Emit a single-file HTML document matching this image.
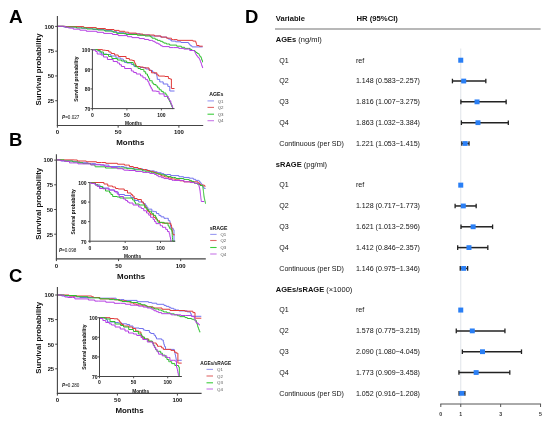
<!DOCTYPE html>
<html><head><meta charset="utf-8"><title>Figure</title>
<style>html,body{margin:0;padding:0;background:#fff;width:550px;height:424px;overflow:hidden}svg{display:block;will-change:transform}text{font-family:"Liberation Sans", sans-serif}</style>
</head><body>
<svg width="550" height="424" viewBox="0 0 550 424">
<rect width="550" height="424" fill="#fff"/>
<path d="M57.50 26.30H63.50V27.00H75.00H81.58V28.25H92.77V29.50H100.00H104.22V30.57H111.82V31.65H116.79V32.72H124.06V33.80H130.00H140.19V34.90H149.66V36.00H159.00H160.50V37.10H166.91V38.20H167.80H168.51V39.17H170.30V40.13H171.45V41.10H172.20H175.58V41.80H178.00H180.96V42.50H188.20H188.61V43.60H189.40V44.70H189.60H190.35V45.80H191.98V46.90H192.50H202.70V46.90" fill="none" stroke="#7272ee" stroke-width="1.0" stroke-linejoin="miter"/>
<path d="M57.50 26.30H65.53V26.60H81.00H83.79V27.57H96.33V28.53H105.46V29.50H113.00H114.02V30.40H119.12V31.30H124.69V32.20H128.64V33.10H130.00H136.37V34.07H142.89V35.03H154.38V36.00H159.00H161.14V37.10H166.63V38.20H170.70H171.46V39.60H173.60H177.20V40.35H192.83V41.10H195.50H195.74V42.20H196.09V43.30H196.44V44.40H196.66V45.50H196.90H199.14V46.20H202.70" fill="none" stroke="#e03a3a" stroke-width="1.0" stroke-linejoin="miter"/>
<path d="M57.50 26.30H64.67V27.00H70.00H76.45V28.00H86.77V29.00H97.65V30.00H100.00H104.83V31.12H113.15V32.25H116.63V33.38H126.10V34.50H130.00H137.24V35.25H145.02V36.00H148.90H150.77V37.10H152.10V38.20H155.17V39.30H157.35V40.40H159.00H160.16V41.30H162.40V42.20H163.86V43.10H166.33V44.00H167.80H169.68V45.10H176.72V46.20H178.00H181.36V47.30H184.61V48.40H188.20H190.17V49.45H191.92V50.50H194.00H194.84V51.50H195.87V52.50H197.23V53.50H198.40H198.92V54.58H199.36V55.65H200.09V56.72H201.15V57.80H201.30H201.55V58.90H201.78V60.00H202.27V61.10H202.53V62.20H202.70" fill="none" stroke="#2fbf2f" stroke-width="1.0" stroke-linejoin="miter"/>
<path d="M57.50 26.30H63.70V26.50H65.66V27.30H68.61V28.10H69.50H73.24V29.15H79.85V30.20H86.28V31.25H96.93V32.30H100.00H103.62V33.40H112.42V34.50H118.18V35.60H127.47V36.70H130.00H131.98V37.62H139.16V38.55H144.38V39.48H148.79V40.40H151.80H152.74V41.30H154.70V42.20H155.97V43.10H158.16V44.00H159.00H159.84V44.87H160.68V45.73H162.31V46.60H162.70H169.36V47.60H173.60H178.76V48.40H180.90H183.83V49.10H188.20H189.68V50.50H194.00H194.39V51.52H194.98V52.54H195.43V53.56H195.89V54.58H196.50V55.60H196.90H197.32V56.52H197.90V57.45H198.91V58.38H199.48V59.30H199.80H199.90V60.27H200.31V61.23H200.58V62.20H201.01V63.17H201.33V64.13H201.58V65.10H201.92V66.07H202.25V67.03H202.60V68.00H202.70" fill="none" stroke="#b53ee2" stroke-width="1.0" stroke-linejoin="miter"/>
<line x1="57.4" y1="16" x2="57.4" y2="126.0" stroke="#444" stroke-width="1.1"/>
<line x1="56.9" y1="125.5" x2="203.2" y2="125.5" stroke="#444" stroke-width="1.1"/>
<line x1="55.199999999999996" y1="100.725" x2="57.4" y2="100.725" stroke="#444" stroke-width="1"/>
<text x="54.1" y="103.02" font-size="5.8" font-weight="bold" text-anchor="end" fill="#111">25</text>
<line x1="55.199999999999996" y1="75.95" x2="57.4" y2="75.95" stroke="#444" stroke-width="1"/>
<text x="54.1" y="78.25" font-size="5.8" font-weight="bold" text-anchor="end" fill="#111">50</text>
<line x1="55.199999999999996" y1="51.175" x2="57.4" y2="51.175" stroke="#444" stroke-width="1"/>
<text x="54.1" y="53.47" font-size="5.8" font-weight="bold" text-anchor="end" fill="#111">75</text>
<line x1="55.199999999999996" y1="26.400000000000006" x2="57.4" y2="26.400000000000006" stroke="#444" stroke-width="1"/>
<text x="54.1" y="28.7" font-size="5.8" font-weight="bold" text-anchor="end" fill="#111">100</text>
<line x1="57.4" y1="125.5" x2="57.4" y2="127.7" stroke="#444" stroke-width="1"/>
<text x="57.4" y="134.3" font-size="6.0" font-weight="bold" text-anchor="middle" fill="#111">0</text>
<line x1="118.15" y1="125.5" x2="118.15" y2="127.7" stroke="#444" stroke-width="1"/>
<text x="118.15" y="134.3" font-size="6.0" font-weight="bold" text-anchor="middle" fill="#111">50</text>
<line x1="178.9" y1="125.5" x2="178.9" y2="127.7" stroke="#444" stroke-width="1"/>
<text x="178.9" y="134.3" font-size="6.0" font-weight="bold" text-anchor="middle" fill="#111">100</text>
<text x="40.9" y="69.5" font-size="7.75" font-weight="bold" text-anchor="middle" fill="#111" transform="rotate(-90 40.9 69.5)">Survival probability</text>
<text x="130.3" y="145.4" font-size="7.9" font-weight="bold" text-anchor="middle" fill="#111">Months</text>
<path d="M92.40 49.60H98.00V49.60H98.94V52.00H100.00H101.61V54.00H103.00H106.77V54.50H108.00H110.88V56.00H114.00H116.02V58.00H118.00H120.76V59.00H123.00H123.31V60.75H124.51V62.50H125.00H126.73V63.00H128.00H131.38V64.50H133.00H134.03V66.50H137.00H140.06V67.50H145.00H145.73V69.00H149.80V70.50H150.70H152.49V72.05H154.25V73.60H156.50H156.74V75.53H157.03V77.47H157.28V79.40H157.40H159.73V81.90H161.50H163.21V84.00H167.30H167.82V86.40H169.80V91.00H170.00H174.50V91.00" fill="none" stroke="#7272ee" stroke-width="1.0" stroke-linejoin="miter"/>
<path d="M92.40 49.60H102.00V49.60H102.48V50.20H103.00H105.38V50.50H107.00H108.80V52.00H110.00H111.14V53.50H114.00H114.62V55.00H117.00H118.27V56.50H120.00H125.00V56.50H126.09V58.50H128.00H129.37V60.00H130.00H132.46V60.50H134.00H134.28V62.00H134.77V63.50H135.00H135.60V65.00H136.29V66.50H137.00H139.78V67.00H143.00H143.33V67.90H144.10H149.01V70.30H150.70H151.48V72.80H154.00H156.90V74.90H158.20H158.59V76.10H159.80H164.88V76.50H168.10H168.42V78.60H168.90H170.01V79.00H171.40V88.50H171.80H174.50V88.50" fill="none" stroke="#e03a3a" stroke-width="1.0" stroke-linejoin="miter"/>
<path d="M92.40 49.60H97.00V49.60H97.71V50.50H99.00H100.22V52.00H101.00H103.44V54.50H105.00H108.55V56.50H110.00H111.87V58.50H116.00H117.35V60.00H120.00H121.44V61.00H125.00H126.68V62.50H130.00H133.20V65.00H135.00H135.56V66.75H138.04V68.50H139.00H140.41V69.50H143.30H143.92V71.75H145.71V74.00H146.60H147.48V76.10H148.56V78.20H149.10H149.62V80.70H151.60H152.18V83.10H153.20H153.68V84.55H156.04V86.00H156.50H157.63V87.90H159.28V89.80H159.80H161.26V91.40H163.26V93.00H164.00H165.85V94.70H166.40H167.01V96.47H167.62V98.25H168.84V100.03H169.54V101.80H170.00H170.49V103.50H171.15V105.20H171.84V106.90H172.56V108.60H173.00" fill="none" stroke="#2fbf2f" stroke-width="1.0" stroke-linejoin="miter"/>
<path d="M92.40 49.60H93.09V50.00H95.00H95.62V51.50H96.00H97.18V54.00H98.00H101.06V55.00H102.00H103.45V57.00H106.00H107.41V59.50H110.00H113.20V61.50H115.00H117.38V63.00H119.00H119.57V64.75H121.42V66.50H122.00H124.63V68.50H128.00H131.33V71.00H133.00H133.68V72.50H136.33V74.00H138.00H140.59V75.90H142.95V77.80H145.00H145.59V79.65H147.78V81.50H148.30H148.78V83.35H149.36V85.20H150.39V87.05H151.27V88.90H151.60H152.32V91.00H154.00H156.48V91.40H158.20H159.10V93.90H161.50H164.11V96.40H168.00H168.25V98.60H169.32V100.80H170.79V103.00H171.00H171.29V104.87H172.20V106.73H172.64V108.60H173.00" fill="none" stroke="#b53ee2" stroke-width="1.0" stroke-linejoin="miter"/>
<line x1="92.4" y1="49.6" x2="92.4" y2="109.1" stroke="#444" stroke-width="1"/>
<line x1="91.9" y1="108.6" x2="174.5" y2="108.6" stroke="#444" stroke-width="1"/>
<line x1="90.5" y1="108.6" x2="92.4" y2="108.6" stroke="#444" stroke-width="0.9"/>
<text x="90.2" y="110.9" font-size="5.0" font-weight="bold" text-anchor="end" fill="#111">70</text>
<line x1="90.5" y1="88.93333333333334" x2="92.4" y2="88.93333333333334" stroke="#444" stroke-width="0.9"/>
<text x="90.2" y="91.23" font-size="5.0" font-weight="bold" text-anchor="end" fill="#111">80</text>
<line x1="90.5" y1="69.26666666666667" x2="92.4" y2="69.26666666666667" stroke="#444" stroke-width="0.9"/>
<text x="90.2" y="71.57" font-size="5.0" font-weight="bold" text-anchor="end" fill="#111">90</text>
<line x1="90.5" y1="49.6" x2="92.4" y2="49.6" stroke="#444" stroke-width="0.9"/>
<text x="90.2" y="51.9" font-size="5.0" font-weight="bold" text-anchor="end" fill="#111">100</text>
<line x1="92.4" y1="108.6" x2="92.4" y2="110.39999999999999" stroke="#444" stroke-width="0.9"/>
<text x="92.4" y="116.5" font-size="5.0" font-weight="bold" text-anchor="middle" fill="#111">0</text>
<line x1="126.9" y1="108.6" x2="126.9" y2="110.39999999999999" stroke="#444" stroke-width="0.9"/>
<text x="126.9" y="116.5" font-size="5.0" font-weight="bold" text-anchor="middle" fill="#111">50</text>
<line x1="161.4" y1="108.6" x2="161.4" y2="110.39999999999999" stroke="#444" stroke-width="0.9"/>
<text x="161.4" y="116.5" font-size="5.0" font-weight="bold" text-anchor="middle" fill="#111">100</text>
<text x="78.5" y="79.1" font-size="4.9" font-weight="bold" text-anchor="middle" fill="#111" transform="rotate(-90 78.5 79.1)">Survival probability</text>
<text x="133.45" y="125.0" font-size="4.8" font-weight="bold" text-anchor="middle" fill="#111">Months</text>
<text x="62.1" y="118.5" font-size="4.6" fill="#111"><tspan font-style="italic" font-weight="bold">P</tspan><tspan font-weight="bold">=</tspan>0.027</text>
<text x="209.2" y="96.4" font-size="5.2" font-weight="bold" text-anchor="start" fill="#111">AGEs</text>
<line x1="207.5" y1="100.9" x2="214" y2="100.9" stroke="#9a9af2" stroke-width="1.1"/>
<text x="217.7" y="102.5" font-size="4.4" text-anchor="start" fill="#555">Q1</text>
<line x1="207.5" y1="107.4" x2="214" y2="107.4" stroke="#e06a6a" stroke-width="1.1"/>
<text x="217.7" y="109.0" font-size="4.4" text-anchor="start" fill="#555">Q2</text>
<line x1="207.5" y1="114.2" x2="214" y2="114.2" stroke="#3ccc3c" stroke-width="1.1"/>
<text x="217.7" y="115.8" font-size="4.4" text-anchor="start" fill="#555">Q3</text>
<line x1="207.5" y1="120.7" x2="214" y2="120.7" stroke="#c878e8" stroke-width="1.1"/>
<text x="217.7" y="122.3" font-size="4.4" text-anchor="start" fill="#555">Q4</text>
<path d="M57.00 159.90H61.28V161.00H69.50H73.34V161.87H79.88V162.73H88.21V163.60H91.40H95.57V164.35H100.39V165.10H105.90H108.94V166.50H120.50H123.84V167.25H126.94V168.00H130.00H132.48V168.97H143.06V169.93H148.04V170.90H151.80H154.36V171.80H157.22V172.70H161.23V173.60H163.81V174.50H166.40H170.61V175.60H178.88V176.70H180.90H183.52V177.45H189.29V178.20H191.10H193.30V179.30H195.62V180.40H198.40H199.03V181.37H199.90V182.33H200.70V183.30H201.30H201.43V184.32H202.30V185.34H202.74V186.36H203.41V187.38H204.04V188.40H204.20H205.60V188.40" fill="none" stroke="#7272ee" stroke-width="1.0" stroke-linejoin="miter"/>
<path d="M57.00 159.90H73.90V160.00H77.35V161.00H84.00H86.29V161.75H96.58V162.50H101.50H105.75V163.30H116.00H117.40V164.20H124.43V165.10H127.70H129.43V166.50H130.00H133.29V167.50H138.02V168.50H141.28V169.50H144.50H146.54V170.47H149.83V171.43H153.48V172.40H156.20H156.58V173.30H158.13V174.20H160.20V175.10H161.56V176.00H162.00H164.64V176.97H168.50V177.93H170.96V178.90H173.60H175.11V179.87H179.75V180.83H183.89V181.80H185.30H196.90V181.80H197.93V182.90H199.41V184.00H199.80H200.53V185.10H204.33V186.20H205.60" fill="none" stroke="#e03a3a" stroke-width="1.0" stroke-linejoin="miter"/>
<path d="M57.00 159.90H64.17V161.00H69.50H72.62V161.87H77.61V162.73H82.87V163.60H84.00H90.63V164.80H94.30H94.83V165.80H95.15V166.80H95.70H105.43V168.00H116.00H126.72V168.70H130.00H134.27V169.80H142.62V170.90H144.50H145.79V171.87H151.66V172.83H155.85V173.80H159.00H160.92V174.73H164.64V175.65H167.06V176.57H171.15V177.50H173.60H175.74V178.47H183.81V179.43H189.11V180.40H191.10H191.53V181.37H193.56V182.33H194.45V183.30H195.50H197.55V184.40H200.09V185.50H202.70H202.73V186.53H202.92V187.55H202.99V188.57H203.12V189.60H203.30V190.62H203.42V191.65H203.50V192.68H203.67V193.70H203.77V194.73H203.90V195.75H203.99V196.78H204.17V197.80H204.20H204.34V198.77H204.62V199.73H204.84V200.70H204.99V201.67H205.23V202.63H205.44V203.60H205.60" fill="none" stroke="#2fbf2f" stroke-width="1.0" stroke-linejoin="miter"/>
<path d="M57.00 159.90H60.24V160.70H65.13V161.50H66.60H69.50V162.90H72.50H77.94V163.85H90.80V164.80H103.00H103.87V165.65H105.15V166.50H105.90H111.15V167.60H117.29V168.70H121.90H122.86V169.45H123.88V170.20H124.80H128.34V170.50H130.00H135.58V171.45H142.67V172.40H147.50H149.77V173.45H154.50V174.50H156.20H156.64V175.60H158.35V176.70H159.00H161.49V177.62H163.96V178.55H168.79V179.47H172.18V180.40H173.60H183.92V181.80H188.20H190.25V182.55H194.60V183.30H198.40H198.56V184.25H198.79V185.20H198.98V186.15H199.16V187.10H199.41V188.05H199.70V189.00H199.80H199.85V190.04H200.02V191.08H200.12V192.12H200.22V193.17H200.37V194.21H200.48V195.25H200.64V196.29H200.77V197.33H200.86V198.38H201.00V199.42H201.13V200.46H201.26V201.50H201.30H204.20V201.50" fill="none" stroke="#b53ee2" stroke-width="1.0" stroke-linejoin="miter"/>
<line x1="56.4" y1="154.2" x2="56.4" y2="259.4" stroke="#444" stroke-width="1.1"/>
<line x1="55.9" y1="258.9" x2="205.8" y2="258.9" stroke="#444" stroke-width="1.1"/>
<line x1="54.199999999999996" y1="234.2" x2="56.4" y2="234.2" stroke="#444" stroke-width="1"/>
<text x="53.1" y="236.5" font-size="5.8" font-weight="bold" text-anchor="end" fill="#111">25</text>
<line x1="54.199999999999996" y1="209.5" x2="56.4" y2="209.5" stroke="#444" stroke-width="1"/>
<text x="53.1" y="211.8" font-size="5.8" font-weight="bold" text-anchor="end" fill="#111">50</text>
<line x1="54.199999999999996" y1="184.79999999999998" x2="56.4" y2="184.79999999999998" stroke="#444" stroke-width="1"/>
<text x="53.1" y="187.1" font-size="5.8" font-weight="bold" text-anchor="end" fill="#111">75</text>
<line x1="54.199999999999996" y1="160.1" x2="56.4" y2="160.1" stroke="#444" stroke-width="1"/>
<text x="53.1" y="162.4" font-size="5.8" font-weight="bold" text-anchor="end" fill="#111">100</text>
<line x1="56.4" y1="258.9" x2="56.4" y2="261.09999999999997" stroke="#444" stroke-width="1"/>
<text x="56.4" y="267.8" font-size="6.0" font-weight="bold" text-anchor="middle" fill="#111">0</text>
<line x1="118.55000000000001" y1="258.9" x2="118.55000000000001" y2="261.09999999999997" stroke="#444" stroke-width="1"/>
<text x="118.55" y="267.8" font-size="6.0" font-weight="bold" text-anchor="middle" fill="#111">50</text>
<line x1="180.70000000000002" y1="258.9" x2="180.70000000000002" y2="261.09999999999997" stroke="#444" stroke-width="1"/>
<text x="180.7" y="267.8" font-size="6.0" font-weight="bold" text-anchor="middle" fill="#111">100</text>
<text x="41.1" y="203.8" font-size="7.75" font-weight="bold" text-anchor="middle" fill="#111" transform="rotate(-90 41.1 203.8)">Survival probability</text>
<text x="131.1" y="278.59999999999997" font-size="7.9" font-weight="bold" text-anchor="middle" fill="#111">Months</text>
<path d="M89.90 182.50H91.36V182.80H93.00H95.14V185.00H97.00H100.02V187.00H101.00H103.40V188.00H106.00H109.03V190.00H112.00H114.76V192.00H117.00H118.24V194.50H121.00H124.55V195.50H128.00H130.89V197.50H133.00H134.01V199.00H134.88V200.50H136.00H138.67V202.00H143.00H143.36V203.67H145.36V205.33H146.66V207.00H147.20H147.79V209.15H151.85V211.30H152.40H154.43V211.70H155.00H156.48V213.55H158.92V215.40H160.00H160.97V216.85H163.99V218.30H166.60H168.31V220.70H169.90H169.96V222.63H170.25V224.57H170.53V226.50H170.70H171.06V228.15H173.14V229.80H174.00V241.20H174.40" fill="none" stroke="#7272ee" stroke-width="1.0" stroke-linejoin="miter"/>
<path d="M89.90 182.50H102.00V182.50H103.94V184.00H106.00H107.78V186.00H109.00H112.60V187.00H115.00H115.57V188.50H117.00H118.24V189.00H123.00H124.27V190.50H126.00H127.46V193.00H130.00H131.03V194.50H132.42V196.00H133.00H134.12V198.50H135.00H137.14V199.50H139.00H141.39V202.00H143.00H143.30V203.88H144.54V205.75H145.41V207.62H146.93V209.50H147.20H147.54V211.23H149.62V212.97H150.42V214.70H151.50H153.64V217.40H155.00H155.66V219.05H157.38V220.70H158.30H159.50V222.40H160.00H162.26V223.20H170.70H170.79V224.87H171.40V226.53H171.70V228.20H171.90H171.97V230.10H172.38V232.00H172.64V233.90H172.70H173.26V234.80H174.80" fill="none" stroke="#e03a3a" stroke-width="1.0" stroke-linejoin="miter"/>
<path d="M89.90 182.50H91.36V183.00H94.00H95.53V184.75H98.03V186.50H99.00H102.55V188.50H104.00H105.56V191.00H109.00H109.51V192.75H110.93V194.50H112.00H112.67V196.50H114.00H117.20V197.00H119.00H119.83V198.00H122.00H131.00V198.20H132.56V200.00H134.00H134.33V202.00H135.38V204.00H136.00H139.21V205.00H143.00H144.69V207.80H145.40H146.87V209.55H148.54V211.30H150.60H151.40V213.35H153.43V215.40H155.00H155.60V217.15H156.39V218.90H157.21V220.65H158.05V222.40H158.30H164.19V223.20H167.40H168.02V225.70H168.20H169.03V227.33H169.87V228.97H171.54V230.60H171.90H171.97V232.37H172.12V234.13H172.24V235.90H172.36V237.67H172.49V239.43H172.63V241.20H172.70H174.80V241.20" fill="none" stroke="#2fbf2f" stroke-width="1.0" stroke-linejoin="miter"/>
<path d="M89.90 182.50H90.98V183.50H94.00H95.24V185.00H97.18V186.50H98.00H99.53V188.50H100.00H102.90V188.80H108.00H109.06V190.00H111.00H114.20V191.50H116.00H117.19V194.00H118.00H119.15V196.50H121.00H123.44V199.00H125.00H125.66V200.50H127.50V202.00H128.00H129.08V203.00H132.00H133.00V205.00H135.00H138.70V207.00H140.00H141.24V208.50H143.00H143.75V210.75H146.53V213.00H147.20H148.71V215.15H150.55V217.30H152.40H153.09V219.45H154.48V221.60H155.00H155.99V223.65H160.25V225.70H161.60H162.50V227.30H164.90H165.72V229.40H167.46V231.50H169.00H169.14V233.44H169.75V235.38H170.03V237.32H170.59V239.26H170.87V241.20H171.10" fill="none" stroke="#b53ee2" stroke-width="1.0" stroke-linejoin="miter"/>
<line x1="89.9" y1="182.5" x2="89.9" y2="241.7" stroke="#444" stroke-width="1"/>
<line x1="89.4" y1="241.2" x2="175.3" y2="241.2" stroke="#444" stroke-width="1"/>
<line x1="88.0" y1="241.2" x2="89.9" y2="241.2" stroke="#444" stroke-width="0.9"/>
<text x="86.5" y="243.5" font-size="5.0" font-weight="bold" text-anchor="end" fill="#111">70</text>
<line x1="88.0" y1="221.63333333333333" x2="89.9" y2="221.63333333333333" stroke="#444" stroke-width="0.9"/>
<text x="86.5" y="223.93" font-size="5.0" font-weight="bold" text-anchor="end" fill="#111">80</text>
<line x1="88.0" y1="202.06666666666666" x2="89.9" y2="202.06666666666666" stroke="#444" stroke-width="0.9"/>
<text x="86.5" y="204.37" font-size="5.0" font-weight="bold" text-anchor="end" fill="#111">90</text>
<line x1="88.0" y1="182.5" x2="89.9" y2="182.5" stroke="#444" stroke-width="0.9"/>
<text x="86.5" y="184.8" font-size="5.0" font-weight="bold" text-anchor="end" fill="#111">100</text>
<line x1="89.9" y1="241.2" x2="89.9" y2="243.0" stroke="#444" stroke-width="0.9"/>
<text x="89.9" y="249.6" font-size="5.0" font-weight="bold" text-anchor="middle" fill="#111">0</text>
<line x1="125.2" y1="241.2" x2="125.2" y2="243.0" stroke="#444" stroke-width="0.9"/>
<text x="125.2" y="249.6" font-size="5.0" font-weight="bold" text-anchor="middle" fill="#111">50</text>
<line x1="160.5" y1="241.2" x2="160.5" y2="243.0" stroke="#444" stroke-width="0.9"/>
<text x="160.5" y="249.6" font-size="5.0" font-weight="bold" text-anchor="middle" fill="#111">100</text>
<text x="75.4" y="211.85" font-size="4.9" font-weight="bold" text-anchor="middle" fill="#111" transform="rotate(-90 75.4 211.85)">Survival probability</text>
<text x="132.6" y="257.6" font-size="4.8" font-weight="bold" text-anchor="middle" fill="#111">Months</text>
<text x="59.0" y="252.2" font-size="4.6" fill="#111"><tspan font-style="italic" font-weight="bold">P</tspan><tspan font-weight="bold">=</tspan>0.098</text>
<text x="209.7" y="230.2" font-size="5.2" font-weight="bold" text-anchor="start" fill="#111">sRAGE</text>
<line x1="210.2" y1="234.4" x2="216.6" y2="234.4" stroke="#9a9af2" stroke-width="1.1"/>
<text x="220.4" y="236.0" font-size="4.4" text-anchor="start" fill="#555">Q1</text>
<line x1="210.2" y1="240.5" x2="216.6" y2="240.5" stroke="#e06a6a" stroke-width="1.1"/>
<text x="220.4" y="242.1" font-size="4.4" text-anchor="start" fill="#555">Q2</text>
<line x1="210.2" y1="247.5" x2="216.6" y2="247.5" stroke="#3ccc3c" stroke-width="1.1"/>
<text x="220.4" y="249.1" font-size="4.4" text-anchor="start" fill="#555">Q3</text>
<line x1="210.2" y1="254" x2="216.6" y2="254" stroke="#c878e8" stroke-width="1.1"/>
<text x="220.4" y="255.6" font-size="4.4" text-anchor="start" fill="#555">Q4</text>
<path d="M57.50 295.00H61.61V296.00H69.50H73.32V296.75H79.81V297.50H84.00H98.79V298.20H110.30H116.17V299.60H120.50H123.97V300.40H135.00H137.08V301.70H145.00H148.51V302.45H151.78V303.20H155.00H156.70V304.30H163.99V305.40H165.00H166.13V306.37H168.97V307.33H170.80V308.30H172.00H173.56V309.17H175.44V310.03H178.88V310.90H180.00H187.21V311.90H190.00H190.26V313.00H190.82V314.10H191.30V315.20H191.62V316.30H192.00H201.30V316.30" fill="none" stroke="#7272ee" stroke-width="1.0" stroke-linejoin="miter"/>
<path d="M57.50 295.00H69.08V296.00H91.40H91.78V296.75H93.48V297.50H94.30H99.84V298.90H113.20H114.36V299.87H120.16V300.83H126.50V301.80H127.70H130.18V302.90H133.76V304.00H135.00H136.67V304.93H142.61V305.87H146.83V306.80H150.00H153.04V308.00H160.00H161.98V309.25H169.96V310.50H175.00H184.83V311.20H188.00H192.88V312.60H195.00V318.20H195.50H201.30V318.20" fill="none" stroke="#e03a3a" stroke-width="1.0" stroke-linejoin="miter"/>
<path d="M57.50 295.00H64.38V295.50H69.50H76.56V296.70H87.86V297.90H91.40H99.74V298.75H109.32V299.60H113.20H118.67V300.57H122.05V301.53H131.22V302.50H135.00H137.87V303.62H140.96V304.75H145.28V305.88H147.25V307.00H150.00H151.60V308.00H154.49V309.00H158.42V310.00H160.00H161.63V310.96H163.62V311.92H166.99V312.88H170.10V313.84H174.25V314.80H175.00H177.47V315.73H179.86V316.65H185.04V317.57H187.31V318.50H190.00H191.71V319.25H193.83V320.00H196.00H196.06V321.03H196.49V322.06H196.66V323.09H196.95V324.11H197.37V325.14H197.64V326.17H197.82V327.20H198.00H198.31V328.22H198.61V329.24H199.04V330.26H199.33V331.28H199.91V332.30H200.00" fill="none" stroke="#2fbf2f" stroke-width="1.0" stroke-linejoin="miter"/>
<path d="M57.50 295.00H61.69V295.30H63.70H64.22V296.15H64.82V297.00H65.20H67.81V297.50H72.50H74.80V298.90H84.00H88.36V300.00H94.82V301.10H98.60H105.78V302.20H114.19V303.30H120.50H125.30V304.25H130.39V305.20H135.00H138.41V306.13H143.19V307.07H147.24V308.00H150.00H150.94V308.92H152.90V309.84H154.17V310.76H156.36V311.68H158.43V312.60H159.00H161.62V313.70H171.28V314.80H173.60H180.75V315.50H185.30H191.45V316.30H194.00H194.12V317.32H194.38V318.34H194.80V319.36H195.10V320.38H195.34V321.40H195.50H195.78V322.30H196.92V323.20H198.27V324.10H199.13V325.00H199.80" fill="none" stroke="#b53ee2" stroke-width="1.0" stroke-linejoin="miter"/>
<line x1="57.4" y1="287" x2="57.4" y2="393.9" stroke="#444" stroke-width="1.1"/>
<line x1="56.9" y1="393.4" x2="201.6" y2="393.4" stroke="#444" stroke-width="1.1"/>
<line x1="55.199999999999996" y1="368.79999999999995" x2="57.4" y2="368.79999999999995" stroke="#444" stroke-width="1"/>
<text x="54.1" y="371.1" font-size="5.8" font-weight="bold" text-anchor="end" fill="#111">25</text>
<line x1="55.199999999999996" y1="344.2" x2="57.4" y2="344.2" stroke="#444" stroke-width="1"/>
<text x="54.1" y="346.5" font-size="5.8" font-weight="bold" text-anchor="end" fill="#111">50</text>
<line x1="55.199999999999996" y1="319.6" x2="57.4" y2="319.6" stroke="#444" stroke-width="1"/>
<text x="54.1" y="321.9" font-size="5.8" font-weight="bold" text-anchor="end" fill="#111">75</text>
<line x1="55.199999999999996" y1="295.0" x2="57.4" y2="295.0" stroke="#444" stroke-width="1"/>
<text x="54.1" y="297.3" font-size="5.8" font-weight="bold" text-anchor="end" fill="#111">100</text>
<line x1="57.4" y1="393.4" x2="57.4" y2="395.59999999999997" stroke="#444" stroke-width="1"/>
<text x="57.4" y="401.5" font-size="6.0" font-weight="bold" text-anchor="middle" fill="#111">0</text>
<line x1="117.4" y1="393.4" x2="117.4" y2="395.59999999999997" stroke="#444" stroke-width="1"/>
<text x="117.4" y="401.5" font-size="6.0" font-weight="bold" text-anchor="middle" fill="#111">50</text>
<line x1="177.4" y1="393.4" x2="177.4" y2="395.59999999999997" stroke="#444" stroke-width="1"/>
<text x="177.4" y="401.5" font-size="6.0" font-weight="bold" text-anchor="middle" fill="#111">100</text>
<text x="40.9" y="337.8" font-size="7.75" font-weight="bold" text-anchor="middle" fill="#111" transform="rotate(-90 40.9 337.8)">Survival probability</text>
<text x="129.5" y="412.5" font-size="7.9" font-weight="bold" text-anchor="middle" fill="#111">Months</text>
<path d="M99.50 317.70H106.00V317.70H106.47V319.85H107.54V322.00H108.00H114.79V322.50H117.00H118.44V323.00H120.00H122.02V323.80H124.00H126.76V324.50H129.00H129.62V326.00H131.00H133.03V328.00H135.00H139.05V328.50H142.00H143.35V330.00H144.00H145.28V330.50H149.00H149.38V332.50H150.00H150.76V333.50H153.00H154.07V335.30H155.53V337.10H156.49V338.90H157.70H161.73V340.00H162.80H163.29V342.20H163.81V344.40H164.43V346.60H164.70H165.52V349.40H167.50H174.20V349.40H174.29V351.30H174.88V353.20H175.10H175.18V354.98H175.56V356.75H175.92V358.52H176.23V360.30H176.50H181.70V360.30" fill="none" stroke="#7272ee" stroke-width="1.0" stroke-linejoin="miter"/>
<path d="M99.50 317.70H109.00V317.70H109.97V318.50H111.00H113.97V318.80H116.00H117.80V320.00H119.00H119.29V321.50H120.21V323.00H121.00H121.42V324.50H122.00H123.46V326.00H126.00H128.74V327.00H130.00H132.46V328.50H134.00H135.68V331.00H137.00H138.60V332.00H140.00H140.90V334.50H141.50V336.50H142.00H143.15V339.00H146.00H148.78V341.50H152.00H152.71V343.00H154.40H156.26V344.65H157.49V346.30H159.40H161.58V347.85H163.32V349.40H165.70H170.90V350.40H174.20H174.56V352.30H175.10H176.34V353.20H177.90V363.10H178.40H181.70V363.10" fill="none" stroke="#e03a3a" stroke-width="1.0" stroke-linejoin="miter"/>
<path d="M99.50 317.70H104.00V317.70H105.07V319.00H107.00H110.06V321.50H112.00H115.05V324.00H117.00H120.55V325.50H122.00H123.56V327.00H127.00H128.69V329.50H132.00H133.44V331.50H137.00H138.34V334.00H141.00H141.64V335.50H142.28V337.00H143.00H144.56V339.00H146.00H147.97V341.00H152.00H152.30V343.00H152.80H153.30V345.20H154.67V347.40H155.62V349.60H156.10H156.91V351.30H160.00H160.69V353.20H162.45V355.10H163.80H165.15V357.30H166.95V359.50H168.81V361.70H169.40H171.70V363.60H174.83V365.50H176.00H178.54V366.90H179.30V376.50H179.80" fill="none" stroke="#2fbf2f" stroke-width="1.0" stroke-linejoin="miter"/>
<path d="M99.50 317.70H99.90V318.50H101.00H102.86V320.50H104.00H105.77V322.50H107.00H109.29V323.80H110.00H111.45V325.00H114.00H115.06V327.00H117.00H120.20V329.00H122.00H124.98V331.00H127.00H128.53V333.00H131.00H133.44V334.00H135.00H136.75V335.50H139.00H141.00V337.50H142.00H142.81V339.50H145.00H147.34V342.00H152.00H152.76V343.90H153.45V345.80H154.42V347.70H155.77V349.60H156.10H157.23V351.90H158.62V354.20H160.00H162.26V355.85H166.79V357.50H168.50H169.91V360.30H173.20H175.15V361.20H176.50V367.40H177.00H177.10V369.22H177.53V371.04H177.85V372.86H178.26V374.68H178.82V376.50H178.90" fill="none" stroke="#b53ee2" stroke-width="1.0" stroke-linejoin="miter"/>
<line x1="99.5" y1="317.7" x2="99.5" y2="377.0" stroke="#444" stroke-width="1"/>
<line x1="99.0" y1="376.5" x2="181.9" y2="376.5" stroke="#444" stroke-width="1"/>
<line x1="97.6" y1="376.5" x2="99.5" y2="376.5" stroke="#444" stroke-width="0.9"/>
<text x="97.5" y="378.8" font-size="5.0" font-weight="bold" text-anchor="end" fill="#111">70</text>
<line x1="97.6" y1="356.9" x2="99.5" y2="356.9" stroke="#444" stroke-width="0.9"/>
<text x="97.5" y="359.2" font-size="5.0" font-weight="bold" text-anchor="end" fill="#111">80</text>
<line x1="97.6" y1="337.3" x2="99.5" y2="337.3" stroke="#444" stroke-width="0.9"/>
<text x="97.5" y="339.6" font-size="5.0" font-weight="bold" text-anchor="end" fill="#111">90</text>
<line x1="97.6" y1="317.7" x2="99.5" y2="317.7" stroke="#444" stroke-width="0.9"/>
<text x="97.5" y="320.0" font-size="5.0" font-weight="bold" text-anchor="end" fill="#111">100</text>
<line x1="99.5" y1="376.5" x2="99.5" y2="378.3" stroke="#444" stroke-width="0.9"/>
<text x="99.5" y="383.8" font-size="5.0" font-weight="bold" text-anchor="middle" fill="#111">0</text>
<line x1="133.6" y1="376.5" x2="133.6" y2="378.3" stroke="#444" stroke-width="0.9"/>
<text x="133.6" y="383.8" font-size="5.0" font-weight="bold" text-anchor="middle" fill="#111">50</text>
<line x1="167.7" y1="376.5" x2="167.7" y2="378.3" stroke="#444" stroke-width="0.9"/>
<text x="167.7" y="383.8" font-size="5.0" font-weight="bold" text-anchor="middle" fill="#111">100</text>
<text x="86.4" y="347.1" font-size="4.9" font-weight="bold" text-anchor="middle" fill="#111" transform="rotate(-90 86.4 347.1)">Survival probability</text>
<text x="140.7" y="392.5" font-size="4.8" font-weight="bold" text-anchor="middle" fill="#111">Months</text>
<text x="62.1" y="386.5" font-size="4.6" fill="#111"><tspan font-style="italic" font-weight="bold">P</tspan><tspan font-weight="bold">=</tspan>0.280</text>
<text x="200.2" y="365.0" font-size="4.8" font-weight="bold" text-anchor="start" fill="#111">AGEs/sRAGE</text>
<line x1="206.5" y1="369.4" x2="213" y2="369.4" stroke="#9a9af2" stroke-width="1.1"/>
<text x="217.1" y="371.0" font-size="4.4" text-anchor="start" fill="#555">Q1</text>
<line x1="206.5" y1="376" x2="213" y2="376" stroke="#e06a6a" stroke-width="1.1"/>
<text x="217.1" y="377.6" font-size="4.4" text-anchor="start" fill="#555">Q2</text>
<line x1="206.5" y1="382.8" x2="213" y2="382.8" stroke="#3ccc3c" stroke-width="1.1"/>
<text x="217.1" y="384.4" font-size="4.4" text-anchor="start" fill="#555">Q3</text>
<line x1="206.5" y1="389" x2="213" y2="389" stroke="#c878e8" stroke-width="1.1"/>
<text x="217.1" y="390.6" font-size="4.4" text-anchor="start" fill="#555">Q4</text>
<text x="9" y="22.9" font-size="19" font-weight="bold" text-anchor="start" fill="#000">A</text>
<text x="9.1" y="146" font-size="18.5" font-weight="bold" text-anchor="start" fill="#000">B</text>
<text x="9.1" y="281.5" font-size="18.5" font-weight="bold" text-anchor="start" fill="#000">C</text>
<text x="244.9" y="22.9" font-size="18.5" font-weight="bold" text-anchor="start" fill="#000">D</text>
<text x="275.8" y="21.4" font-size="7.6" font-weight="bold" text-anchor="start" fill="#111">Variable</text>
<text x="356.5" y="21.4" font-size="7.7" font-weight="bold" text-anchor="start" fill="#111">HR (95%CI)</text>
<line x1="275" y1="29.1" x2="540.6" y2="29.1" stroke="#b8b8b8" stroke-width="2"/>
<line x1="460.75" y1="48.5" x2="460.75" y2="404" stroke="#dde1e7" stroke-width="0.9"/>
<text x="275.8" y="41.70" font-size="7.5" fill="#111"><tspan font-weight="bold">AGEs</tspan> (ng/ml)</text>
<text x="279.3" y="62.52" font-size="7.1" text-anchor="start" fill="#111">Q1</text>
<text x="355.9" y="62.52" font-size="7.2" text-anchor="start" fill="#111">ref</text>
<rect x="458.25" y="57.72" width="5" height="5" fill="#2a7ff5"/>
<text x="279.3" y="83.34" font-size="7.1" text-anchor="start" fill="#111">Q2</text>
<text x="355.9" y="83.34" font-size="7.1" text-anchor="start" fill="#111">1.148 (0.583~2.257)</text>
<line x1="452.43085" y1="81.04" x2="485.82715" y2="81.04" stroke="#222" stroke-width="1.5"/>
<line x1="452.43085" y1="78.74000000000001" x2="452.43085" y2="83.34" stroke="#222" stroke-width="1.3"/>
<line x1="485.82715" y1="78.74000000000001" x2="485.82715" y2="83.34" stroke="#222" stroke-width="1.3"/>
<rect x="461.20" y="78.64" width="5" height="4.8" fill="#2a7ff5"/>
<text x="279.3" y="104.16" font-size="7.1" text-anchor="start" fill="#111">Q3</text>
<text x="355.9" y="104.16" font-size="7.1" text-anchor="start" fill="#111">1.816 (1.007~3.275)</text>
<line x1="460.88965" y1="101.86" x2="506.13625" y2="101.86" stroke="#222" stroke-width="1.5"/>
<line x1="460.88965" y1="99.56" x2="460.88965" y2="104.16" stroke="#222" stroke-width="1.3"/>
<line x1="506.13625" y1="99.56" x2="506.13625" y2="104.16" stroke="#222" stroke-width="1.3"/>
<rect x="474.53" y="99.46" width="5" height="4.8" fill="#2a7ff5"/>
<text x="279.3" y="124.98" font-size="7.1" text-anchor="start" fill="#111">Q4</text>
<text x="355.9" y="124.98" font-size="7.1" text-anchor="start" fill="#111">1.863 (1.032~3.384)</text>
<line x1="461.3884" y1="122.68" x2="508.3108" y2="122.68" stroke="#222" stroke-width="1.5"/>
<line x1="461.3884" y1="120.38000000000001" x2="461.3884" y2="124.98" stroke="#222" stroke-width="1.3"/>
<line x1="508.3108" y1="120.38000000000001" x2="508.3108" y2="124.98" stroke="#222" stroke-width="1.3"/>
<rect x="475.47" y="120.28" width="5" height="4.8" fill="#2a7ff5"/>
<text x="279.3" y="145.80" font-size="7.1" text-anchor="start" fill="#111">Continuous (per SD)</text>
<text x="355.9" y="145.80" font-size="7.1" text-anchor="start" fill="#111">1.221 (1.053~1.415)</text>
<line x1="461.80735" y1="143.5" x2="469.02925" y2="143.5" stroke="#222" stroke-width="1.5"/>
<line x1="461.80735" y1="141.2" x2="461.80735" y2="145.8" stroke="#222" stroke-width="1.3"/>
<line x1="469.02925" y1="141.2" x2="469.02925" y2="145.8" stroke="#222" stroke-width="1.3"/>
<rect x="462.66" y="141.10" width="5" height="4.8" fill="#2a7ff5"/>
<text x="275.8" y="166.62" font-size="7.5" fill="#111"><tspan font-weight="bold">sRAGE</tspan> (pg/ml)</text>
<text x="279.3" y="187.44" font-size="7.1" text-anchor="start" fill="#111">Q1</text>
<text x="355.9" y="187.44" font-size="7.2" text-anchor="start" fill="#111">ref</text>
<rect x="458.25" y="182.64" width="5" height="5" fill="#2a7ff5"/>
<text x="279.3" y="208.26" font-size="7.1" text-anchor="start" fill="#111">Q2</text>
<text x="355.9" y="208.26" font-size="7.1" text-anchor="start" fill="#111">1.128 (0.717~1.773)</text>
<line x1="455.10415" y1="205.95999999999998" x2="476.17135" y2="205.95999999999998" stroke="#222" stroke-width="1.5"/>
<line x1="455.10415" y1="203.65999999999997" x2="455.10415" y2="208.26" stroke="#222" stroke-width="1.3"/>
<line x1="476.17135" y1="203.65999999999997" x2="476.17135" y2="208.26" stroke="#222" stroke-width="1.3"/>
<rect x="460.80" y="203.56" width="5" height="4.8" fill="#2a7ff5"/>
<text x="279.3" y="229.08" font-size="7.1" text-anchor="start" fill="#111">Q3</text>
<text x="355.9" y="229.08" font-size="7.1" text-anchor="start" fill="#111">1.621 (1.013~2.596)</text>
<line x1="461.00935" y1="226.77999999999997" x2="492.5902" y2="226.77999999999997" stroke="#222" stroke-width="1.5"/>
<line x1="461.00935" y1="224.47999999999996" x2="461.00935" y2="229.07999999999998" stroke="#222" stroke-width="1.3"/>
<line x1="492.5902" y1="224.47999999999996" x2="492.5902" y2="229.07999999999998" stroke="#222" stroke-width="1.3"/>
<rect x="470.64" y="224.38" width="5" height="4.8" fill="#2a7ff5"/>
<text x="279.3" y="249.90" font-size="7.1" text-anchor="start" fill="#111">Q4</text>
<text x="355.9" y="249.90" font-size="7.1" text-anchor="start" fill="#111">1.412 (0.846~2.357)</text>
<line x1="457.6777" y1="247.59999999999997" x2="487.82215" y2="247.59999999999997" stroke="#222" stroke-width="1.5"/>
<line x1="457.6777" y1="245.29999999999995" x2="457.6777" y2="249.89999999999998" stroke="#222" stroke-width="1.3"/>
<line x1="487.82215" y1="245.29999999999995" x2="487.82215" y2="249.89999999999998" stroke="#222" stroke-width="1.3"/>
<rect x="466.47" y="245.20" width="5" height="4.8" fill="#2a7ff5"/>
<text x="279.3" y="270.72" font-size="7.1" text-anchor="start" fill="#111">Continuous (per SD)</text>
<text x="355.9" y="270.72" font-size="7.1" text-anchor="start" fill="#111">1.146 (0.975~1.346)</text>
<line x1="460.25125" y1="268.42" x2="467.65270000000004" y2="268.42" stroke="#222" stroke-width="1.5"/>
<line x1="460.25125" y1="266.12" x2="460.25125" y2="270.72" stroke="#222" stroke-width="1.3"/>
<line x1="467.65270000000004" y1="266.12" x2="467.65270000000004" y2="270.72" stroke="#222" stroke-width="1.3"/>
<rect x="461.16" y="266.02" width="5" height="4.8" fill="#2a7ff5"/>
<text x="275.8" y="291.54" font-size="7.5" fill="#111"><tspan font-weight="bold">AGEs/sRAGE</tspan> (×1000)</text>
<text x="279.3" y="312.36" font-size="7.1" text-anchor="start" fill="#111">Q1</text>
<text x="355.9" y="312.36" font-size="7.2" text-anchor="start" fill="#111">ref</text>
<rect x="458.25" y="307.56" width="5" height="5" fill="#2a7ff5"/>
<text x="279.3" y="333.18" font-size="7.1" text-anchor="start" fill="#111">Q2</text>
<text x="355.9" y="333.18" font-size="7.1" text-anchor="start" fill="#111">1.578 (0.775~3.215)</text>
<line x1="456.26125" y1="330.88" x2="504.93925" y2="330.88" stroke="#222" stroke-width="1.5"/>
<line x1="456.26125" y1="328.58" x2="456.26125" y2="333.18" stroke="#222" stroke-width="1.3"/>
<line x1="504.93925" y1="328.58" x2="504.93925" y2="333.18" stroke="#222" stroke-width="1.3"/>
<rect x="469.78" y="328.48" width="5" height="4.8" fill="#2a7ff5"/>
<text x="279.3" y="354.00" font-size="7.1" text-anchor="start" fill="#111">Q3</text>
<text x="355.9" y="354.00" font-size="7.1" text-anchor="start" fill="#111">2.090 (1.080~4.045)</text>
<line x1="462.346" y1="351.7" x2="521.49775" y2="351.7" stroke="#222" stroke-width="1.5"/>
<line x1="462.346" y1="349.4" x2="462.346" y2="354.0" stroke="#222" stroke-width="1.3"/>
<line x1="521.49775" y1="349.4" x2="521.49775" y2="354.0" stroke="#222" stroke-width="1.3"/>
<rect x="480.00" y="349.30" width="5" height="4.8" fill="#2a7ff5"/>
<text x="279.3" y="374.82" font-size="7.1" text-anchor="start" fill="#111">Q4</text>
<text x="355.9" y="374.82" font-size="7.1" text-anchor="start" fill="#111">1.773 (0.909~3.458)</text>
<line x1="458.93455" y1="372.52" x2="509.7871" y2="372.52" stroke="#222" stroke-width="1.5"/>
<line x1="458.93455" y1="370.21999999999997" x2="458.93455" y2="374.82" stroke="#222" stroke-width="1.3"/>
<line x1="509.7871" y1="370.21999999999997" x2="509.7871" y2="374.82" stroke="#222" stroke-width="1.3"/>
<rect x="473.67" y="370.12" width="5" height="4.8" fill="#2a7ff5"/>
<text x="279.3" y="395.64" font-size="7.1" text-anchor="start" fill="#111">Continuous (per SD)</text>
<text x="355.9" y="395.64" font-size="7.1" text-anchor="start" fill="#111">1.052 (0.916~1.208)</text>
<line x1="459.0742" y1="393.34" x2="464.8996" y2="393.34" stroke="#222" stroke-width="1.5"/>
<line x1="459.0742" y1="391.03999999999996" x2="459.0742" y2="395.64" stroke="#222" stroke-width="1.3"/>
<line x1="464.8996" y1="391.03999999999996" x2="464.8996" y2="395.64" stroke="#222" stroke-width="1.3"/>
<rect x="459.29" y="390.94" width="5" height="4.8" fill="#2a7ff5"/>
<line x1="440.3" y1="404" x2="541.05" y2="404" stroke="#555" stroke-width="1"/>
<line x1="440.8" y1="404" x2="440.8" y2="407" stroke="#555" stroke-width="1"/>
<text x="440.80" y="416" font-size="5.2" font-weight="bold" text-anchor="middle" fill="#333">0</text>
<line x1="460.75" y1="404" x2="460.75" y2="407" stroke="#555" stroke-width="1"/>
<text x="460.75" y="416" font-size="5.2" font-weight="bold" text-anchor="middle" fill="#333">1</text>
<line x1="500.65" y1="404" x2="500.65" y2="407" stroke="#555" stroke-width="1"/>
<text x="500.65" y="416" font-size="5.2" font-weight="bold" text-anchor="middle" fill="#333">3</text>
<line x1="540.55" y1="404" x2="540.55" y2="407" stroke="#555" stroke-width="1"/>
<text x="540.55" y="416" font-size="5.2" font-weight="bold" text-anchor="middle" fill="#333">5</text>
</svg>
</body></html>
